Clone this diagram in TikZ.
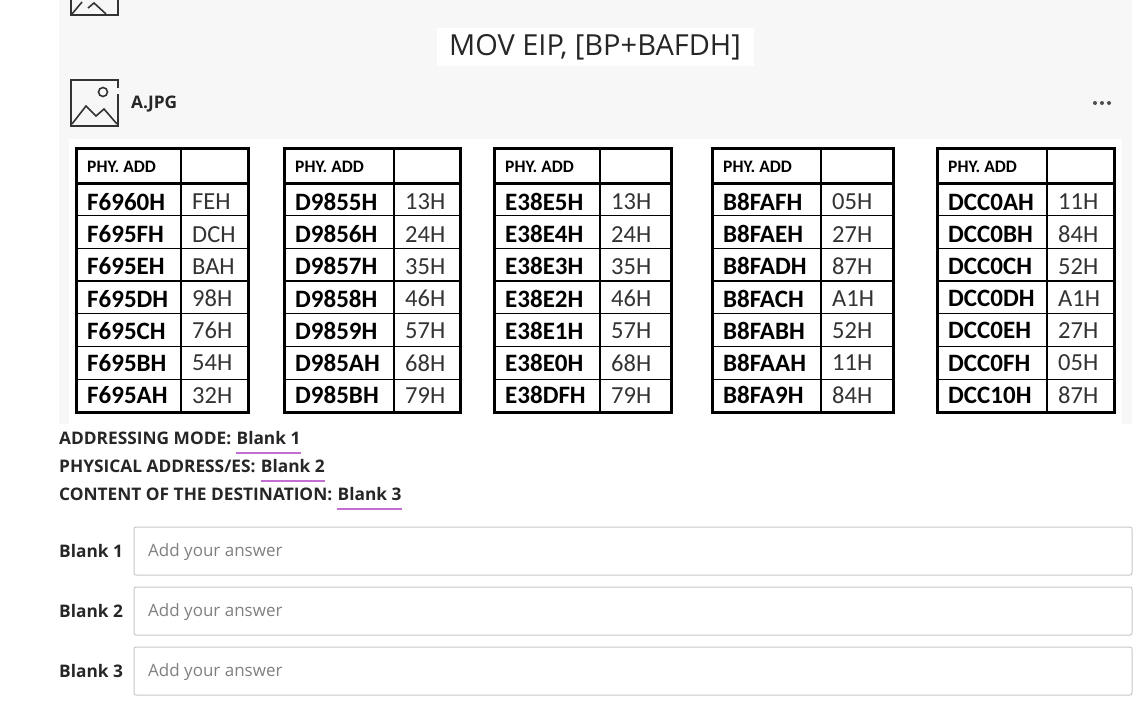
\documentclass[tikz,border=0pt]{standalone}
\usepackage{fontspec}
\setmainfont{Open Sans}
\newfontfamily\carlitofont{Carlito}
\begin{document}
\begin{tikzpicture}[x=1pt,y=-1pt,
  tb/.style={line width=3pt},
  cl/.style={line width=1.3pt},
  addr/.style={font=\carlitofont\fontsize{25}{25}\selectfont\bfseries,anchor=west,inner sep=0},
  val/.style={font=\carlitofont\fontsize{24.5}{24}\selectfont,anchor=west,inner sep=0,text=black!80},
  hd/.style={font=\carlitofont\fontsize{17.5}{17}\selectfont\bfseries,anchor=west,inner sep=0},
  lbl/.style={font=\fontsize{17.3}{17}\selectfont\bfseries,anchor=west,inner sep=0,text=black!85},
  box/.style={draw=black!22,line width=1pt,rounded corners=2pt,fill=white},
  ph/.style={font=\fontsize{17}{17}\selectfont,text=black!50,anchor=west,inner sep=0}]
\useasboundingbox (0,0) rectangle (1146,709);
\fill[white] (0,0) rectangle (1146,709);
\fill[black!3] (59,0) rectangle (1132,424);
% top icon partial
\draw[black!80,line width=1.6pt] (71,0) -- (71,15) -- (118,15) -- (118,0);
\draw[black!80,line width=1.6pt] (72,14) -- (82,2) (88,8) -- (94,3) -- (106,14);
% title
\node[fill=white,minimum width=317,minimum height=38,inner sep=0,font=\fontsize{29}{29}\selectfont,text=black!85] (title) at (595,47) {MOV EIP, [BP+BAFDH]};
% image icon
\draw[black!80,line width=1.6pt] (118,88) -- (118,80) -- (71,80) -- (71,126) -- (118,126) -- (118,94);
\draw[black!80,line width=1.6pt] (72,124) -- (86,106) -- (96,116) -- (104,109) -- (117,124);
\draw[black!80,line width=1.6pt] (103,92) circle (4.5);
\node[lbl] (fname) at (131,104) {A.JPG};
\foreach \dx in {0,7,14} \fill[black!70] (1095+\dx,103) circle (2);
% table image area
\fill[white] (69,139) rectangle (1122,424);
\foreach \L/\D/\R/\a/\b/\c/\d/\e/\f/\g/\va/\vb/\vc/\vd/\ve/\vf/\vg in {
 76/181/248/F6960H/F695FH/F695EH/F695DH/F695CH/F695BH/F695AH/FEH/DCH/BAH/98H/76H/54H/32H,
 284/394/460/D9855H/D9856H/D9857H/D9858H/D9859H/D985AH/D985BH/13H/24H/35H/46H/57H/68H/79H,
 494/600/671/E38E5H/E38E4H/E38E3H/E38E2H/E38E1H/E38E0H/E38DFH/13H/24H/35H/46H/57H/68H/79H,
 712/821/893/B8FAFH/B8FAEH/B8FADH/B8FACH/B8FABH/B8FAAH/B8FA9H/05H/27H/87H/A1H/52H/11H/84H,
 937/1047/1114/DCC0AH/DCC0BH/DCC0CH/DCC0DH/DCC0EH/DCC0FH/DCC10H/11H/84H/52H/A1H/27H/05H/87H}{
  \foreach \k in {1,...,6} \draw[cl] (\L,183+\k*32.7) -- (\R,183+\k*32.7);
  \draw[cl] (\D,148) -- (\D,412);
  \draw[tb] (\L,183) -- (\R,183);
  \draw[tb] (\L,148) rectangle (\R,412);
  \node[hd] at (\L+11,167) {PHY. ADD};
  \foreach \t [count=\i from 0] in {\a,\b,\c,\d,\e,\f,\g}
    \node[addr] at (\L+11,202+\i*32.2) {\t};
  \foreach \t [count=\i from 0] in {\va,\vb,\vc,\vd,\ve,\vf,\vg}
    \node[val] at (\D+11,202+\i*32.2) {\t};
}
% questions
\node[lbl] (q1) at (59,438) {ADDRESSING MODE:};
\node[lbl,xshift=5pt] (b1) at (q1.east) {Blank 1};
\node[lbl] (q2) at (59,466) {PHYSICAL ADDRESS/ES:};
\node[lbl,xshift=5pt] (b2) at (q2.east) {Blank 2};
\node[lbl] (q3) at (59,494) {CONTENT OF THE DESTINATION:};
\node[lbl,xshift=5pt] (b3) at (q3.east) {Blank 3};
\foreach \n in {b1,b2,b3} \draw[color={rgb,255:red,196;green,110;blue,212},line width=1.5pt] ([yshift=-8pt]\n.south west) -- ([yshift=-8pt]\n.south east);
\foreach \i/\y in {1/551,2/611,3/671}{
  \node[lbl] at (59,\y) {Blank \i};
  \draw[box] (134,\y-24) rectangle (1132,\y+24);
  \node[ph] at (148,\y+1) {Add your answer};
}
\end{tikzpicture}
\end{document}
